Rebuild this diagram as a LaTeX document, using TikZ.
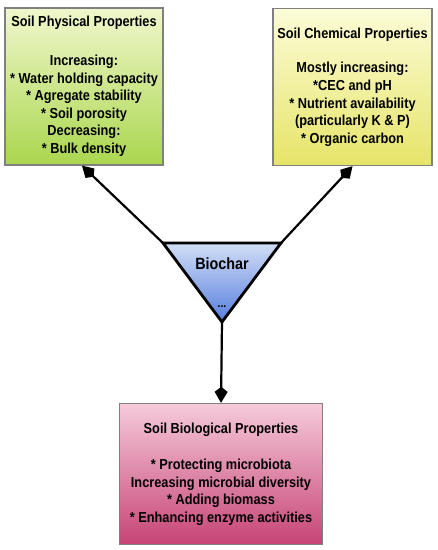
\documentclass[tikz,border=0pt]{standalone}
\usepackage{fontspec}
\setmainfont[FakeStretch=0.88]{Liberation Sans}
\usetikzlibrary{arrows.meta}
\definecolor{physTop}{RGB}{240,247,204}
\definecolor{physBot}{RGB}{170,214,78}
\definecolor{chemTop}{RGB}{252,252,216}
\definecolor{chemBot}{RGB}{230,228,104}
\definecolor{bioTop}{RGB}{246,202,218}
\definecolor{bioBot}{RGB}{198,68,118}
\definecolor{triTop}{RGB}{210,222,246}
\definecolor{triBot}{RGB}{86,126,222}
\begin{document}
\begin{tikzpicture}[x=1pt,y=-1pt,
    box/.style={rectangle,draw=black!50,line width=1.3pt,align=center,inner sep=0pt,
                font=\bfseries\fontsize{14.5}{17.6}\selectfont},
    link/.style={-{Kite[length=16pt,width=13pt,inset=5pt]},line width=2.2pt}]
       \useasboundingbox (0,0) rectangle (438,550);
       \node (phys) at (84,86.5) [box,minimum width=158pt,minimum height=157pt,
                                 top color=physTop,bottom color=physBot]
             {Soil Physical Properties\\[21pt]Increasing:\\{}* Water holding capacity\\
              {}* Agregate stability\\{}* Soil porosity\\Decreasing:\\{}* Bulk density};
       \node (chem) at (352.5,87) [box,minimum width=159pt,minimum height=157pt,
                                  top color=chemTop,bottom color=chemBot]
             {Soil Chemical Properties\\[17pt]Mostly increasing:\\{}*CEC and pH\\
              {}* Nutrient availability\\(particularly K \& P)\\{}* Organic carbon};
       \node (bio) at (221,474) [box,minimum width=203pt,minimum height=141pt,
                                top color=bioTop,bottom color=bioBot]
             {Soil Biological Properties\\[19pt]{}* Protecting microbiota\\
              Increasing microbial diversity\\{}* Adding biomass\\{}* Enhancing enzyme activities};
       \coordinate (tl) at (163,243);
       \coordinate (tr) at (281,243);
       \coordinate (tip) at (222,322);
       \draw [link] (tl) -- ([xshift=-2pt]phys.south);
       \draw [link] (tr) -- (chem.south);
       \draw [link] (tip) -- (bio.north);
       \draw [line width=2.8pt,top color=triTop,bottom color=triBot] (tl) -- (tr) -- (tip) -- cycle;
       \node (biochar) at (222,264) [font=\bfseries\fontsize{16.3}{18}\selectfont]{Biochar};
       \node (dots) at (222,307) [font=\bfseries\fontsize{12}{13}\selectfont]{...};
     \end{tikzpicture}
\end{document}
